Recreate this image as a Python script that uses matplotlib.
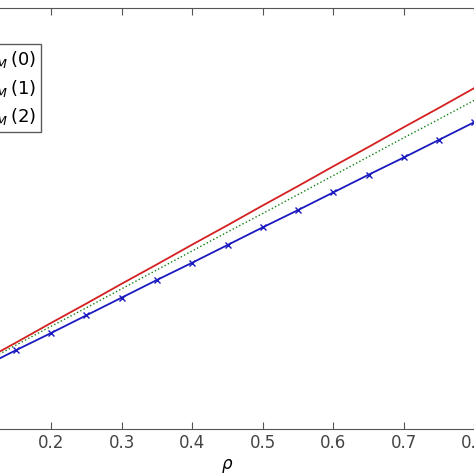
import matplotlib
matplotlib.use("Agg")
import matplotlib.pyplot as plt

rho = [0.1, 0.15, 0.2, 0.25, 0.3, 0.35, 0.4, 0.45, 0.5, 0.55, 0.6, 0.65, 0.7, 0.75, 0.8, 0.85, 0.9]
pi0 = [0.159, 0.205, 0.252, 0.298, 0.345, 0.391, 0.438, 0.484, 0.531, 0.577, 0.624, 0.670, 0.717, 0.763, 0.810, 0.856, 0.903]
pi1 = [0.154, 0.199, 0.244, 0.288, 0.333, 0.378, 0.423, 0.468, 0.512, 0.557, 0.602, 0.647, 0.692, 0.736, 0.781, 0.826, 0.871]
pi2 = [0.145, 0.187, 0.228, 0.270, 0.312, 0.354, 0.395, 0.437, 0.479, 0.520, 0.562, 0.604, 0.645, 0.687, 0.729, 0.771, 0.812]
xticks = [0.1, 0.2, 0.3, 0.4, 0.5, 0.6, 0.7, 0.8, 0.9]
xticklabels = ["0.1", "0.2", "0.3", "0.4", "0.5", "0.6", "0.7", "0.8", "0.9"]

fig = plt.figure(figsize=(4.74, 4.74), dpi=100)
ax = fig.add_axes([-90/474, 45/474, 635/474, 421/474])
ax.plot(rho, pi0, color="#d42020", lw=1.3, label=r"$\pi_M\,(0)$")
ax.plot(rho, pi1, color="#108010", lw=1.0, ls=":", label=r"$\pi_M\,(1)$")
ax.plot(rho, pi2, color="#1a1ac0", lw=1.3, marker="x", ms=5, label=r"$\pi_M\,(2)$")
ax.set_xlim(0.0, 0.9)
ax.set_ylim(0, 1)
ax.set_xticks(xticks)
ax.set_xticklabels(xticklabels, fontsize=12, color="#444444")
ax.set_yticks([])
ax.tick_params(axis="x", direction="in", top=True, length=5, color="#555555")
for s in ax.spines.values():
    s.set_color("#555555")
ax.set_xlabel(r"$\rho$", fontsize=12)
ax.legend(loc="upper right", bbox_to_anchor=(131/635, 1 - 36/421), fontsize=13,
          frameon=True, fancybox=False, edgecolor="#333333", handlelength=2.5,
          borderaxespad=0, borderpad=0.3, handletextpad=0.6, labelspacing=0.4)
fig.savefig("out.png", dpi=100)
